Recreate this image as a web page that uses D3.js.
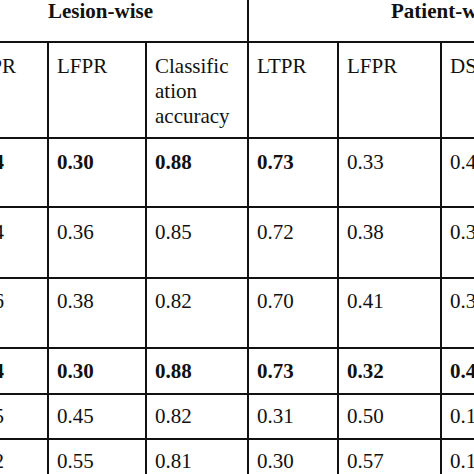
<!DOCTYPE html>
<html><head><meta charset="utf-8">
<script src="https://cdn.jsdelivr.net/npm/d3@7"></script>
<style>body{margin:0;background:#fff} svg text{font-family:"Liberation Serif","DejaVu Serif","Times New Roman",serif}</style>
</head><body>
<script>
// table contents, first column is cut off in the reference
var groups = ["Lesion-wise", "Patient-wise"];
var headers = [["LTPR"], ["LFPR"], ["Classific", "ation", "accuracy"], ["LTPR"], ["LFPR"], ["DSC"]];
var rows = [
  ["0.74", "0.30", "0.88", "0.73", "0.33", "0.45"],
  ["0.64", "0.36", "0.85", "0.72", "0.38", "0.38"],
  ["0.6", "0.38", "0.82", "0.70", "0.41", "0.36"],
  ["0.74", "0.30", "0.88", "0.73", "0.32", "0.45"],
  ["0.35", "0.45", "0.82", "0.31", "0.50", "0.16"],
  ["0.32", "0.55", "0.81", "0.30", "0.57", "0.15"]
];
var bold = [
  [true, true, true, true, false, false],
  [false, false, false, false, false, false],
  [false, false, false, false, false, false],
  [true, true, true, true, true, true],
  [false, false, false, false, false, false],
  [false, false, false, false, false, false]
];

var W = 474, H = 474;
var colEdges = [-60, 48, 146, 248, 338, 441, 540];
var rowEdges = [42, 138, 207, 278, 348, 394, 439, 485];
var rowTextY = [162, 232, 301, 371, 416, 461];

var svg = d3.select("body").append("svg").attr("width", W).attr("height", H);

var x = d3.scaleOrdinal().domain(d3.range(headers.length)).range(colEdges.slice(0, 6));
var lines = svg.append("g").attr("stroke", "#111").attr("stroke-width", 2);

// horizontal rules
lines.selectAll(".h").data(rowEdges.slice(0, 7)).enter().append("line")
  .attr("x1", 0).attr("x2", W).attr("y1", function(d) { return d; }).attr("y2", function(d) { return d; });
// vertical rules in body
lines.selectAll(".v").data(colEdges.slice(1, 6)).enter().append("line")
  .attr("x1", function(d) { return d; }).attr("x2", function(d) { return d; })
  .attr("y1", 42).attr("y2", H);
lines.append("line").attr("x1", 248).attr("x2", 248).attr("y1", 0).attr("y2", 42);

// group headers
svg.selectAll(".grp").data(groups).enter().append("text")
  .attr("x", function(d, i) { return i === 0 ? 48 : 391; })
  .attr("y", 18).attr("font-size", 21).attr("font-weight", "bold").attr("fill", "#111")
  .text(function(d) { return d; });

// column headers
headers.forEach(function(h, c) {
  h.forEach(function(line, k) {
    svg.append("text")
      .attr("x", c === 0 ? 16 : x(c) + 9)
      .attr("text-anchor", c === 0 ? "end" : "start")
      .attr("y", 73 + k * 25).attr("font-size", 21).attr("fill", "#111")
      .text(line);
  });
});

// values
rows.forEach(function(r, ri) {
  svg.selectAll(".r" + ri).data(r).enter().append("text")
    .attr("x", function(d, c) { return c === 0 ? 4 : x(c) + 9; })
    .attr("text-anchor", function(d, c) { return c === 0 ? "end" : "start"; })
    .attr("y", rowTextY[ri] + 7).attr("font-size", 21).attr("fill", "#111")
    .attr("font-weight", function(d, c) { return bold[ri][c] ? "bold" : "normal"; })
    .text(function(d) { return d; });
});
</script>
</body></html>
